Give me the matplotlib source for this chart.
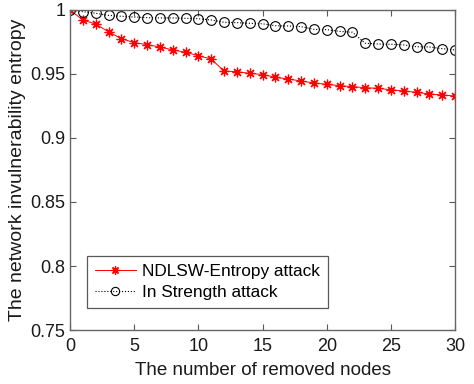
import matplotlib
matplotlib.use('Agg')
from matplotlib import pyplot as plt

plt.rcParams['font.family'] = ['Liberation Sans', 'DejaVu Sans']

# removed nodes 0..30
nodes = list(range(31))

# NDLSW-Entropy attack
ndlsw = [1.0, 0.9922, 0.989, 0.983, 0.9776, 0.9745, 0.9729, 0.9711, 0.9688, 0.967,
         0.9643, 0.9617, 0.9523, 0.9518, 0.9505, 0.9496, 0.9474, 0.9461, 0.9445, 0.943,
         0.9419, 0.9409, 0.9401, 0.9393, 0.9388, 0.9377, 0.9367, 0.9357, 0.9344, 0.9336,
         0.9328]

# In Strength attack
instrength = [1.0, 0.9987, 0.9974, 0.9958, 0.9951, 0.9945, 0.994, 0.9938, 0.9938, 0.9935,
              0.9932, 0.9922, 0.9904, 0.9901, 0.9896, 0.9892, 0.9877, 0.9875, 0.987, 0.9849,
              0.9846, 0.9833, 0.9826, 0.974, 0.9734, 0.9732, 0.9727, 0.9713, 0.9711, 0.9698,
              0.9688]

fig = plt.figure(figsize=(4.74, 3.84), dpi=100)
ax = fig.add_axes([0.1477, 0.1406, 0.8123, 0.8334])

ax.plot(nodes, ndlsw, color='red', lw=0.7, marker=(8, 2, 0), markersize=7,
        markeredgewidth=0.9, label='NDLSW-Entropy attack')
ax.plot(nodes, instrength, color='black', lw=0.8, ls=':', marker='o', markersize=7,
        markerfacecolor='none', markeredgewidth=0.8, label='In Strength attack')

ax.set_xlim(0, 30)
ax.set_ylim(0.75, 1.0)
ax.set_xticks([0, 5, 10, 15, 20, 25, 30])
ax.set_yticks([0.75, 0.8, 0.85, 0.9, 0.95, 1.0])
ax.set_yticklabels(['0.75', '0.8', '0.85', '0.9', '0.95', '1'])

ax.tick_params(direction='in', top=True, right=True, labelsize=13, colors='0.35',
               labelcolor='0.1', length=4)
ax.tick_params(axis='x', pad=6)
for s in ax.spines.values():
    s.set_color('0.4')
    s.set_linewidth(1.0)

ax.set_xlabel('The number of removed nodes', fontsize=13.5, labelpad=5, color='0.1')
ax.set_ylabel('The network invulnerability entropy', fontsize=14, labelpad=3, color='0.1')

leg = ax.legend(loc='lower left', bbox_to_anchor=(0.044, 0.069), borderaxespad=0,
                fontsize=12.4, fancybox=False, edgecolor='0.35', framealpha=1,
                numpoints=1, markerscale=0.85,
                handlelength=2.4, borderpad=0.45, labelspacing=0.35, handletextpad=0.35)
leg.get_frame().set_linewidth(0.9)

fig.savefig('out.png', dpi=100)
